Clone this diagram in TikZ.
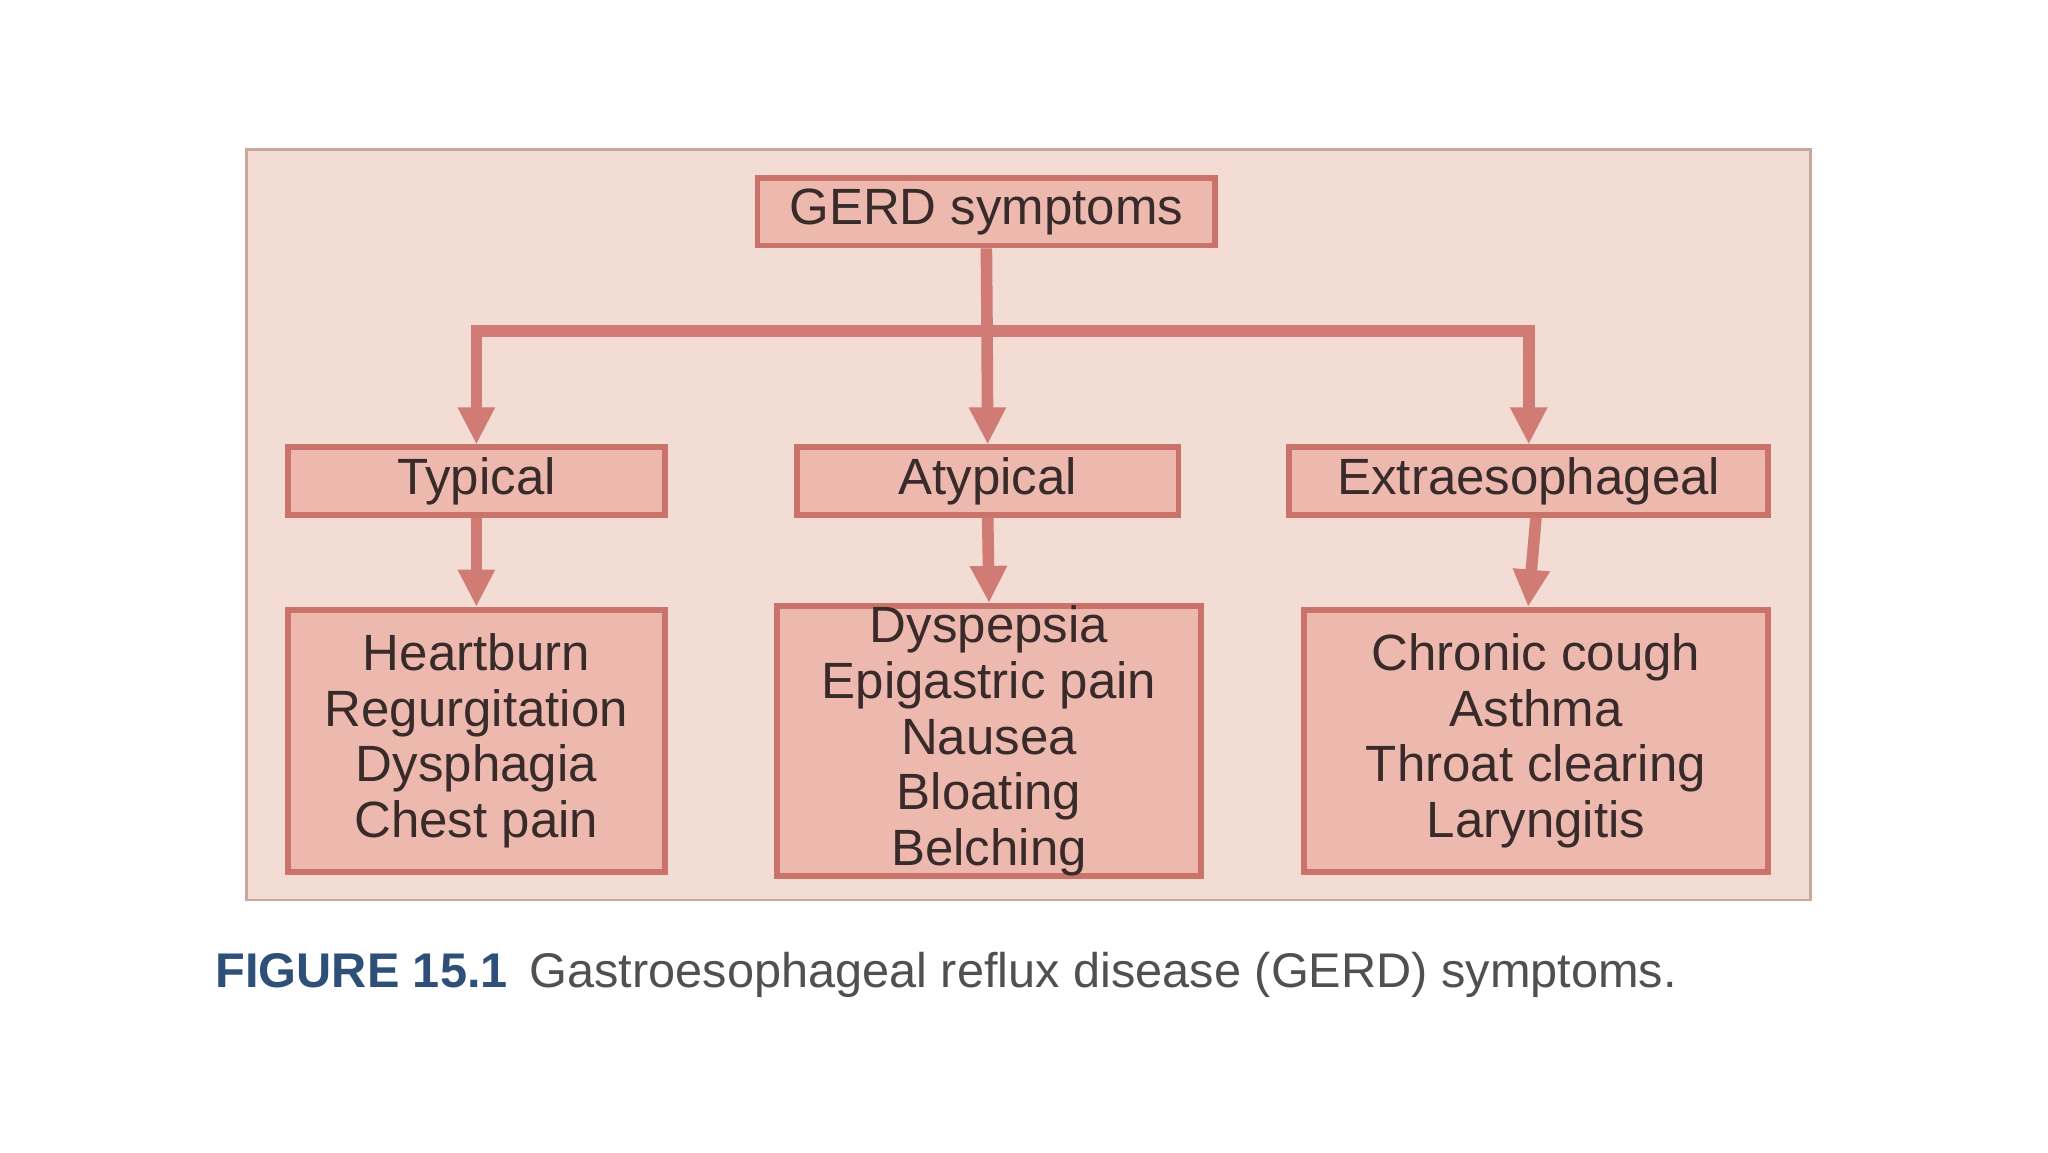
\documentclass[tikz,border=0pt]{standalone}
\usepackage{fontspec}
\setmainfont{Liberation Sans}
\usetikzlibrary{arrows.meta}
\definecolor{bgpink}{HTML}{F2DCD3}
\definecolor{bgline}{HTML}{C8A79D}
\definecolor{boxfill}{HTML}{EDB9AE}
\definecolor{boxline}{HTML}{C9736B}
\definecolor{arr}{HTML}{D07B73}
\definecolor{txt}{HTML}{3A2B2B}
\definecolor{capblue}{HTML}{2E5078}
\definecolor{capgray}{HTML}{505050}
\begin{document}
\begin{tikzpicture}[x=0.02cm,y=-0.02cm,
  bx/.style={draw=boxline,fill=boxfill,line width=2.5pt,inner sep=0pt,text=txt,font=\fontsize{22}{26}\selectfont},
  conn/.style={draw=arr,line width=5pt},
  arrowc/.style={conn,-{Triangle[width=15pt,length=16pt]}}]
\useasboundingbox (0,0) rectangle (1552,873);
\fill[white] (0,0) rectangle (1552,873);
\draw[fill=bgpink,draw=bgline,line width=1.2pt] (187,113) rectangle (1372,682);
\node[bx,minimum width=347*0.02cm,minimum height=51*0.02cm] (g) at (747.5,160.5) {GERD symptoms};
\node[bx,minimum width=286*0.02cm,minimum height=51*0.02cm] (t) at (361,364.5) {Typical};
\node[bx,minimum width=289*0.02cm,minimum height=51*0.02cm] (a) at (748.5,364.5) {Atypical};
\node[bx,minimum width=363*0.02cm,minimum height=51*0.02cm] (e) at (1158.5,364.5) {Extraesophageal};
\node[bx,minimum width=286*0.02cm,minimum height=199*0.02cm,align=center,font=\fontsize{22}{24}\selectfont] (t2) at (361,561.5) {Heartburn\\Regurgitation\\Dysphagia\\Chest pain};
\node[bx,minimum width=321*0.02cm,minimum height=199*0.02cm,align=center,font=\fontsize{22}{24}\selectfont] (a2) at (749.5,561.5) {Dyspepsia\\Epigastric pain\\Nausea\\Bloating\\Belching};
\node[bx,minimum width=352*0.02cm,minimum height=199*0.02cm,align=center,font=\fontsize{22}{24}\selectfont] (e2) at (1164,561.5) {Chronic cough\\Asthma\\Throat clearing\\Laryngitis};
\coordinate (j) at (748,251);
\draw[conn] (g.south) -- (j);
\draw[arrowc] (j) -| (t.north);
\draw[arrowc] (j) -| (e.north);
\draw[arrowc] (j) -- (a.north);
\draw[arrowc] (t.south) -- (t2.north);
\draw[arrowc] (a.south) -- (a2.north);
\draw[arrowc] (e.south-|e2.north) -- ([xshift=-0.12cm]e2.north);
\node[anchor=base west,inner sep=0pt,font=\fontsize{21}{24}\selectfont] (cap) at (163,748)
  {\textcolor{capblue}{\textbf{FIGURE 15.1}}\hspace{0.45em}\textcolor{capgray}{Gastroesophageal reflux disease (GERD) symptoms.}};
\end{tikzpicture}
\end{document}
